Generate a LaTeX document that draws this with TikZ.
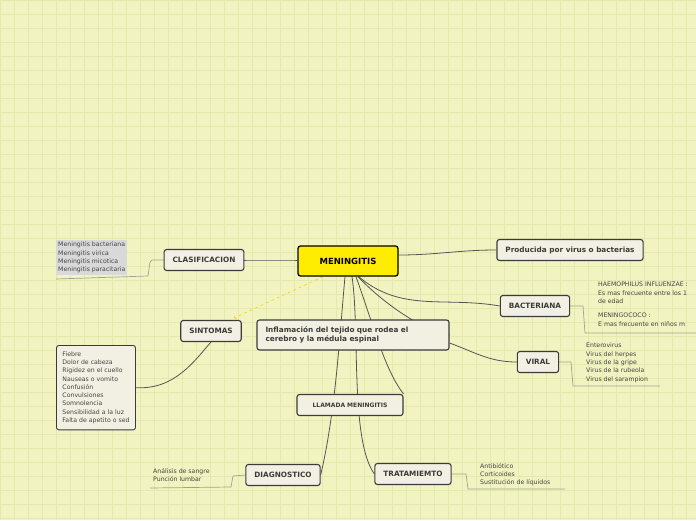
\documentclass[tikz,border=0pt]{standalone}
\usepackage{fontspec}
\setmainfont{DejaVu Sans}
\usetikzlibrary{backgrounds}
\definecolor{bg}{HTML}{F1F4C0}
\definecolor{gridc}{HTML}{E4EAAE}
\definecolor{nodef}{HTML}{F2F0E2}
\definecolor{edge}{HTML}{3B3B3B}
\definecolor{linec}{HTML}{555555}
\definecolor{txt}{HTML}{444444}
\begin{document}
\begin{tikzpicture}[x=1pt,y=-1pt,
  topic/.style={draw=edge,line width=1.1pt,fill=nodef,rounded corners=2.5pt,font=\bfseries\fontsize{7.3}{9}\selectfont,text=edge,inner xsep=8.5pt,inner ysep=4pt,minimum height=21pt},
  note/.style={font=\fontsize{6.2}{8.3}\selectfont,text=txt,align=left,inner sep=2pt},
  conn/.style={draw=linec,line width=0.8pt},
  sub/.style={draw=gray!70!bg,line width=0.7pt}]
\useasboundingbox (0,0) rectangle (696,520);
% center
\node[draw=black,line width=1.3pt,fill=yellow!95!orange,rounded corners=2.5pt,font=\bfseries\fontsize{8.5}{10}\selectfont,minimum width=100pt,minimum height=30pt] (m) at (348,261) {MENINGITIS};
\node[topic] (prod) at (570,250) {Producida por virus o bacterias};
\node[topic] (bac) at (535,306) {BACTERIANA};
\node[topic] (vir) at (538,362) {VIRAL};
\node[topic] (cla) at (204,260) {CLASIFICACION};
\node[topic] (sin) at (211,331) {SINTOMAS};
\node[topic,align=left,text width=175pt,minimum height=30pt] (inf) at (353,335) {Inflamación del tejido que rodea el\\cerebro y la médula espinal};
\node[topic,font=\bfseries\fontsize{6}{7}\selectfont,minimum width=106pt] (lla) at (350,405) {LLAMADA MENINGITIS};
\node[topic] (dia) at (283,475) {DIAGNOSTICO};
\node[topic] (tra) at (413,474) {TRATAMIEMTO};
\node[note,fill=gray!30,anchor=north west] (cn) at (56,240) {Meningitis bacteriana\\Meningitis virica\\Meningitis micotica\\Meningitis paracitaria};
\node[topic,font=\fontsize{6.2}{8.3}\selectfont,align=left,text=txt,anchor=north west,inner sep=6pt,line width=0.9pt] (sn) at (56,345) {Fiebre\\Dolor de cabeza\\Rigidez en el cuello\\Nauseas o vomito\\Confusión\\Convulsiones\\Somnolencia\\Sensibilidad a la luz\\Falta de apetito o sed};
\node[note,anchor=north west] (bn) at (596,280) {HAEMOPHILUS INFLUENZAE :\\Es mas frecuente entre los 1\\de edad\\[6pt]MENINGOCOCO :\\E mas frecuente en niños m};
\node[note,anchor=north west] (vn) at (584,341) {Enterovirus\\Virus del herpes\\Virus de la gripe\\Virus de la rubeola\\Virus del sarampion};
\node[note,anchor=north west] (dn) at (151,466) {Análisis de sangre\\Punción lumbar};
\node[note,anchor=north west] (tn) at (478,461) {Antibiótico\\Corticoides\\Sustitución de líquidos};
\begin{scope}[on background layer]
\fill[bg] (0,0) rectangle (696,520);
\foreach \i in {0,14,...,700} {\draw[gridc,line width=0.4pt] (\i,0) -- (\i,520);}
\foreach \j in {0,14,...,520} {\draw[gridc,line width=0.4pt] (0,\j) -- (696,\j);}
\draw[conn] (m.east) ++(0,-6) to[out=0,in=180] (prod.west);
\draw[conn] (m.south east) ++(-40,0) to[out=-40,in=170] (bac.west);
\draw[conn] (m.south) ++(10,0) .. controls (380,300) and (420,330) .. (inf.east);
\draw[conn] (m.south) ++(8,0) .. controls (375,330) and (385,370) .. (lla.north east);
\draw[conn] (m.south) ++(-3,0) .. controls (340,330) and (336,410) .. (dia.east);
\draw[conn] (m.south) ++(4,0) .. controls (360,330) and (350,440) .. (tra.west);
\draw[conn] (m.west) ++(0,-1) to[out=180,in=0] (cla.east);
\draw[dashed,yellow!70!orange,line width=0.6pt,->] (m.south) ++(-25,0) -- (234,318);
\draw[sub] (cla.west) -- (152,260) -- (150,262) -- (148,276) -- (56,279);
\draw[conn] (sin.south) .. controls (195,360) and (175,390) .. (sn.east);
\draw[sub] (bac.east) -- (583,306) -- (585,333) -- (696,333);
\draw[sub] (vir.east) -- (571,362) -- (573,386) -- (660,386);
\draw[conn] (inf.east) ++(0,8) to[out=-20,in=180] (vir.west);
\draw[sub] (dia.west) -- (233,476) -- (231,487) -- (150,488);
\draw[sub] (tra.east) -- (466,474) -- (468,489) -- (565,489);
\end{scope}
\end{tikzpicture}
\end{document}
